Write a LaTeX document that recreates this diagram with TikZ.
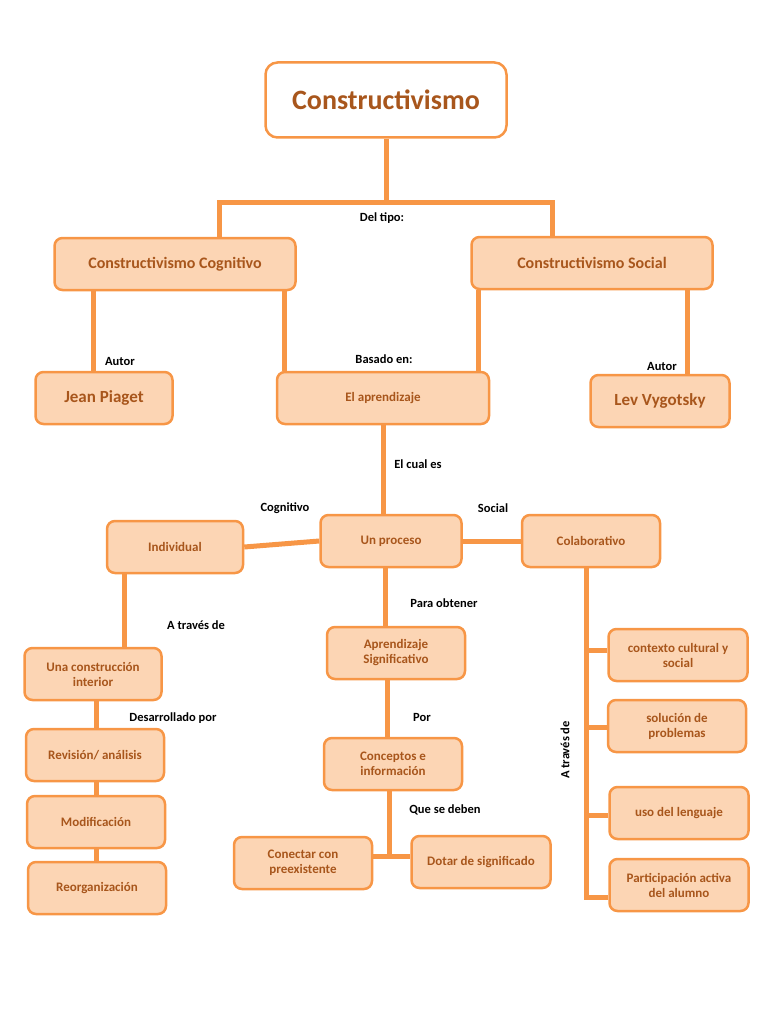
\documentclass[tikz,border=0pt]{standalone}
\usepackage{fontspec}
\setmainfont{Carlito}
\definecolor{borde}{HTML}{F79646}
\definecolor{relleno}{HTML}{FCD5B4}
\definecolor{letra}{HTML}{A8561C}
\begin{document}
\begin{tikzpicture}[x=1pt, y=-1pt, line width=5pt,
        caja/.style = {draw=borde, fill=relleno, line width=2.5pt, rounded corners=8pt, text=letra, font=\bfseries\fontsize{13}{15}\selectfont, align=center, inner sep=0pt, minimum height=52pt},
        rotulo/.style = {font=\bfseries\fontsize{12.5}{14}\selectfont, text=black},
        linea/.style = {draw=borde, line width=5pt}]
    \useasboundingbox (0,0) rectangle (768,1024);
    \node[caja, fill=white, minimum width=241pt, minimum height=75pt, font=\bfseries\fontsize{28}{32}\selectfont, rounded corners=12pt] (cons) at (386,100) {Constructivismo};
    \node[caja, minimum width=241pt, font=\bfseries\fontsize{16}{18}\selectfont] (cog) at (175,264) {Constructivismo Cognitivo};
    \node[caja, minimum width=241pt, font=\bfseries\fontsize{16}{18}\selectfont] (soc) at (592,263) {Constructivismo Social};
    \node[caja, minimum width=137pt, font=\bfseries\fontsize{17}{19}\selectfont] (piaget) at (104,398) {Jean Piaget};
    \node[caja, minimum width=212pt] (aprend) at (383,398) {El aprendizaje};
    \node[caja, minimum width=139pt, font=\bfseries\fontsize{17}{19}\selectfont] (vygotsky) at (660,401) {Lev Vygotsky};
    \node[caja, minimum width=136pt] (indiv) at (175,547) {Individual};
    \node[caja, minimum width=141pt] (proceso) at (391,541) {Un proceso};
    \node[caja, minimum width=138pt] (colab) at (591,541) {Colaborativo};
    \node[caja, minimum width=137pt] (interior) at (93,674) {Una construcción\\interior};
    \node[caja, minimum width=138pt] (revision) at (95,755) {Revisión/ análisis};
    \node[caja, minimum width=138pt] (modif) at (96,822) {Modificación};
    \node[caja, minimum width=138pt] (reorg) at (97,888) {Reorganización};
    \node[caja, minimum width=138pt] (signif) at (396,653) {Aprendizaje\\Significativo};
    \node[caja, minimum width=138pt] (conceptos) at (393,764) {Conceptos e\\información};
    \node[caja, minimum width=138pt] (conectar) at (303,863) {Conectar con\\preexistente};
    \node[caja, minimum width=139pt] (dotar) at (481,862) {Dotar de significado};
    \node[caja, minimum width=139pt] (contexto) at (678,655) {contexto cultural y\\social};
    \node[caja, minimum width=138pt] (solucion) at (677,726) {solución de\\problemas};
    \node[caja, minimum width=139pt] (lenguaje) at (679,813) {uso del lenguaje};
    \node[caja, minimum width=139pt] (particip) at (679,885) {Participación activa\\del alumno};

    \coordinate (tipo) at (386,203);
    \coordinate (cruce) at (389,856);
    \coordinate (rama) at (586,897);

    \begin{scope}[on background layer/.style={}]
    \draw[linea] (cons.south) -- (tipo);
    \draw[linea] (cog.north -| 219,0) |- (tipo) -| (soc.north -| 552,0);
    \draw[linea] (cog.south -| 93,0) -- (piaget.north -| 93,0);
    \draw[linea] (cog.south -| 284,0) -- (aprend.north -| 284,0);
    \draw[linea] (soc.south -| 478,0) -- (aprend.north -| 478,0);
    \draw[linea] (soc.south -| 687,0) -- (vygotsky.north -| 687,0);
    \draw[linea] (aprend.south -| 383,0) -- (proceso.north -| 383,0);
    \draw[linea] (indiv.east) -- (proceso.west);
    \draw[linea] (proceso.east) -- (colab.west);
    \draw[linea] (indiv.south -| 124,0) -- (interior.north -| 124,0);
    \draw[linea] (interior.south -| 96,0) -- (revision.north -| 96,0);
    \draw[linea] (revision.south -| 96,0) -- (modif.north -| 96,0);
    \draw[linea] (modif.south -| 96,0) -- (reorg.north -| 96,0);
    \draw[linea] (proceso.south -| 385,0) -- (signif.north -| 385,0);
    \draw[linea] (signif.south -| 387,0) -- (conceptos.north -| 387,0);
    \draw[linea] (conceptos.south -| 389,0) -- (cruce);
    \draw[linea] (conectar.east |- cruce) -- (dotar.west |- cruce);
    \draw[linea] (colab.south -| 586,0) -- (rama) -- (particip.west |- rama);
    \draw[linea] (contexto.west |- 0,650) -- (586,650);
    \draw[linea] (solucion.west |- 0,727) -- (586,727);
    \draw[linea] (lenguaje.west |- 0,815) -- (586,815);
    \end{scope}

    \node[rotulo] (deltipo) at (382,218) {Del tipo:};
    \node[rotulo] (autor1) at (120,361) {Autor};
    \node[rotulo] (basado) at (384,359) {Basado en:};
    \node[rotulo] (autor2) at (662,366) {Autor};
    \node[rotulo] (cual) at (418,464) {El cual es};
    \node[rotulo] (cognitivo) at (285,508) {Cognitivo};
    \node[rotulo] (social) at (493,508) {Social};
    \node[rotulo] (traves1) at (196,625) {A través de};
    \node[rotulo] (desarr) at (173,718) {Desarrollado por};
    \node[rotulo] (obtener) at (444,603) {Para obtener};
    \node[rotulo] (por) at (422,717) {Por};
    \node[rotulo] (deben) at (445,810) {Que se deben};
    \node[rotulo, rotate=90] (traves2) at (565,750) {A través de};
\end{tikzpicture}
\end{document}
